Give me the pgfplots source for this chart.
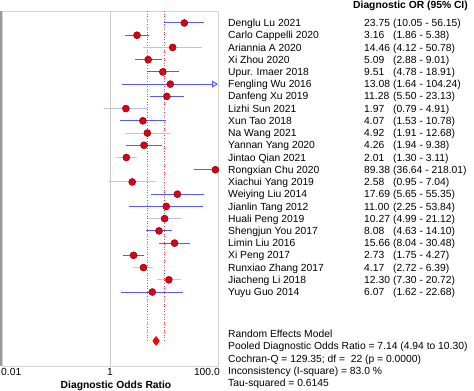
\documentclass[border=0pt]{standalone}
\usepackage{pgfplots}
\pgfplotsset{compat=1.18}
\usepackage{fontspec}
\setmainfont[Scale=1.035]{Liberation Sans}
\usetikzlibrary{arrows.meta}
\definecolor{ciblue}{RGB}{88,88,255}
\definecolor{cilight}{RGB}{192,192,246}
\definecolor{mkred}{RGB}{220,0,24}
\definecolor{mkdark}{RGB}{139,0,0}
\definecolor{framec}{RGB}{212,212,212}
\newcommand\cis[4]{\addplot[draw=#4, mark=none, line width=1bp] coordinates {(#2,#1) (#3,#1)};}
\begin{document}
\begin{tikzpicture}
\useasboundingbox (0,0) rectangle (474bp,391bp);
\begin{axis}[name=ax, at={(2bp,25bp)}, anchor=south west, scale only axis,
  width=216bp, height=355bp, xmode=log, xmin=0.01, xmax=100,
  ymin=-28.05, ymax=0.98, xtick=\empty, ytick=\empty,
  axis line style={draw=framec, line width=0.6pt}, clip=true]
% reference line at 1
\addplot[draw=black!22, mark=none, line width=0.8pt] coordinates {(1,1) (1,-29)};
% pooled CI dotted lines
\addplot[draw=red!75, mark=none, dotted, line width=0.6pt] coordinates {(4.94,0.98) (4.94,-26)};
\addplot[draw=red!75, mark=none, dotted, line width=0.6pt] coordinates {(10.30,0.98) (10.30,-26)};
% confidence intervals
\cis{0}{10.05}{56.15}{ciblue}
\cis{-1}{1.86}{5.38}{ciblue}
\cis{-2}{4.12}{50.78}{cilight}
\cis{-3}{2.88}{9.01}{ciblue}
\cis{-4}{4.78}{18.91}{ciblue}
\cis{-6}{5.50}{23.13}{ciblue}
\cis{-7}{0.79}{4.91}{cilight}
\cis{-8}{1.53}{10.78}{ciblue}
\cis{-9}{1.91}{12.68}{cilight}
\cis{-10}{1.94}{9.38}{ciblue}
\cis{-11}{1.30}{3.11}{cilight}
\cis{-12}{36.64}{218.01}{ciblue}
\cis{-13}{0.95}{7.04}{cilight}
\cis{-14}{5.65}{55.35}{ciblue}
\cis{-15}{2.25}{53.84}{ciblue}
\cis{-16}{4.99}{21.12}{cilight}
\cis{-17}{4.63}{14.10}{ciblue}
\cis{-18}{8.04}{30.48}{ciblue}
\cis{-19}{1.75}{4.27}{ciblue}
\cis{-20}{2.72}{6.39}{cilight}
\cis{-21}{7.30}{20.72}{cilight}
\cis{-22}{1.62}{22.68}{ciblue}
% truncated CI with arrow
\addplot[draw=ciblue, mark=none, line width=1bp, -{Triangle[open, length=6bp, width=7bp]}] coordinates {(1.64,-5) (100,-5)};
% point estimates
\addplot[only marks, mark=*, mark size=3.5bp, mark options={fill=mkred, draw=mkdark, line width=0.5pt}] coordinates {
(23.75,0) (3.16,-1) (14.46,-2) (5.09,-3) (9.51,-4) (13.08,-5) (11.28,-6)
(1.97,-7) (4.07,-8) (4.92,-9) (4.26,-10) (2.01,-11) (89.38,-12) (2.58,-13)
(17.69,-14) (11.00,-15) (10.27,-16) (8.08,-17) (15.66,-18) (2.73,-19)
(4.17,-20) (12.30,-21) (6.07,-22)
};
% pooled estimate
\addplot[only marks, mark=diamond*, mark size=4.5bp, mark options={fill=red, draw=red!80!black, line width=0.4pt}] coordinates {(7.14,-26)};
\end{axis}
\draw[color=black!40, line width=2bp] (1bp,25bp) -- (1bp,380bp);
% header
\node[anchor=base west, inner sep=0] at (353bp,382.4bp) {\bfseries Diagnostic OR (95\% CI)};
% study rows
\foreach \k/\nm/\val/\cc in {
0/Denglu Lu 2021/23.75/(10.05 - 56.15),
1/Carlo Cappelli 2020/3.16/(1.86 - 5.38),
2/Ariannia A 2020/14.46/(4.12 - 50.78),
3/Xi Zhou 2020/5.09/(2.88 - 9.01),
4/Upur. Imaer 2018/9.51/(4.78 - 18.91),
5/Fengling Wu 2016/13.08/(1.64 - 104.24),
6/Danfeng Xu 2019/11.28/(5.50 - 23.13),
7/Lizhi Sun 2021/1.97/(0.79 - 4.91),
8/Xun Tao 2018/4.07/(1.53 - 10.78),
9/Na Wang 2021/4.92/(1.91 - 12.68),
10/Yannan Yang 2020/4.26/(1.94 - 9.38),
11/Jintao Qian 2021/2.01/(1.30 - 3.11),
12/Rongxian Chu 2020/89.38/(36.64 - 218.01),
13/Xiachui Yang 2019/2.58/(0.95 - 7.04),
14/Weiying Liu 2014/17.69/(5.65 - 55.35),
15/Jianlin Tang 2012/11.00/(2.25 - 53.84),
16/Huali Peng 2019/10.27/(4.99 - 21.12),
17/Shengjun You 2017/8.08/(4.63 - 14.10),
18/Limin Liu 2016/15.66/(8.04 - 30.48),
19/Xi Peng 2017/2.73/(1.75 - 4.27),
20/Runxiao Zhang 2017/4.17/(2.72 - 6.39),
21/Jiacheng Li 2018/12.30/(7.30 - 20.72),
22/Yuyu Guo 2014/6.07/(1.62 - 22.68)}{
  \pgfmathsetmacro\yy{364.4-12.23*\k}
  \node[anchor=base west, inner sep=0] at (228bp,\yy bp) {\nm};
  \node[anchor=base west, inner sep=0] at (364bp,\yy bp) {\val};
  \node[anchor=base west, inner sep=0] at (393bp,\yy bp) {\cc};
}
% summary text
\node[anchor=base west, inner sep=0] at (228bp,53.4bp) {Random Effects Model};
\node[anchor=base west, inner sep=0] at (228bp,41.1bp) {Pooled Diagnostic Odds Ratio = 7.14 (4.94 to 10.30)};
\node[anchor=base west, inner sep=0] at (228bp,28.8bp) {Cochran-Q = 129.35; df =\ \ 22 (p = 0.0000)};
\node[anchor=base west, inner sep=0] at (228bp,16.5bp) {Inconsistency (I-square) = 83.0 \%};
\node[anchor=base west, inner sep=0] at (228bp,4.2bp) {Tau-squared = 0.6145};
% tick labels
\node[anchor=base west, inner sep=0] at (1bp,15.4bp) {0.01};
\node[anchor=base, inner sep=0] at (110bp,15.4bp) {1};
\node[anchor=base east, inner sep=0] at (220bp,15.4bp) {100.0};
\node[anchor=base, inner sep=0] at (116bp,3bp) {\bfseries Diagnostic Odds Ratio};
\end{tikzpicture}
\end{document}
